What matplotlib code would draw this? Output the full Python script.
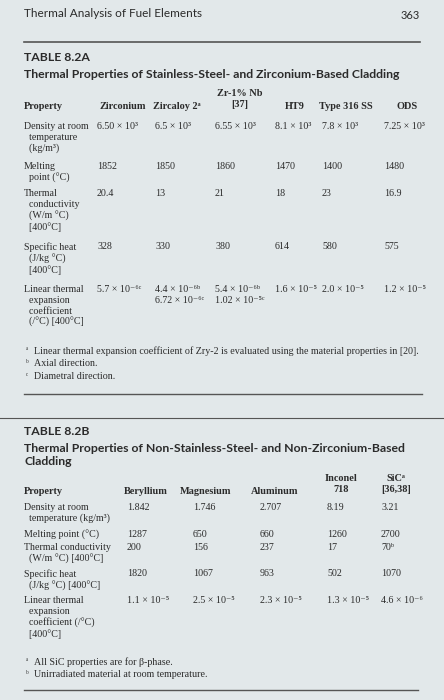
import matplotlib.pyplot as plt

plt.rcParams['font.family'] = ['Liberation Serif', 'DejaVu Serif']

W, H = 444, 700
BG = "#e2e8ea"
INK = "#2b2b2b"
SANS = ['Lato', 'DejaVu Sans']

# Table 8.2A
cols_a = ["Zirconium", "Zircaloy 2ᵃ", "Zr-1% Nb\n[37]", "HT9", "Type 316 SS", "ODS"]
props_a = [
    "Density at room\n  temperature\n  (kg/m³)",
    "Melting\n  point (°C)",
    "Thermal\n  conductivity\n  (W/m °C)\n  [400°C]",
    "Specific heat\n  (J/kg °C)\n  [400°C]",
    "Linear thermal\n  expansion\n  coefficient\n  (/°C) [400°C]",
]
density_a = ["6.50 × 10³", "6.5 × 10³", "6.55 × 10³", "8.1 × 10³", "7.8 × 10³", "7.25 × 10³"]
melting_a = ["1852", "1850", "1860", "1470", "1400", "1480"]
conduct_a = ["20.4", "13", "21", "18", "23", "16.9"]
spheat_a = ["328", "330", "380", "614", "580", "575"]
expans_a = ["5.7 × 10⁻⁶ᶜ", "4.4 × 10⁻⁶ᵇ\n6.72 × 10⁻⁶ᶜ", "5.4 × 10⁻⁶ᵇ\n1.02 × 10⁻⁵ᶜ",
            "1.6 × 10⁻⁵", "2.0 × 10⁻⁵", "1.2 × 10⁻⁵"]
notes_a = [("ᵃ", "Linear thermal expansion coefficient of Zry-2 is evaluated using the material properties in [20]."),
           ("ᵇ", "Axial direction."), ("ᶜ", "Diametral direction.")]

# Table 8.2B
cols_b = ["Beryllium", "Magnesium", "Aluminum", "Inconel\n718", "SiCᵃ\n[36,38]"]
props_b = [
    "Density at room\n  temperature (kg/m³)",
    "Melting point (°C)",
    "Thermal conductivity\n  (W/m °C) [400°C]",
    "Specific heat\n  (J/kg °C) [400°C]",
    "Linear thermal\n  expansion\n  coefficient (/°C)\n  [400°C]",
]
density_b = ["1.842", "1.746", "2.707", "8.19", "3.21"]
melting_b = ["1287", "650", "660", "1260", "2700"]
conduct_b = ["200", "156", "237", "17", "70ᵇ"]
spheat_b = ["1820", "1067", "963", "502", "1070"]
expans_b = ["1.1 × 10⁻⁵", "2.5 × 10⁻⁵", "2.3 × 10⁻⁵", "1.3 × 10⁻⁵", "4.6 × 10⁻⁶"]
notes_b = [("ᵃ", "All SiC properties are for β-phase."), ("ᵇ", "Unirradiated material at room temperature.")]

fig = plt.figure(figsize=(W / 100, H / 100), dpi=100, facecolor=BG)


def put(x, y, s, **kw):
    kw.setdefault("color", INK)
    kw.setdefault("fontsize", 7.2)
    kw.setdefault("va", "top")
    kw.setdefault("linespacing", 1.25)
    fig.text(x / W, 1 - y / H, s, **kw)


def rule(y, x0=24, x1=420, lw=1.0):
    fig.add_artist(plt.Line2D([x0 / W, x1 / W], [1 - y / H, 1 - y / H], color="#555555", lw=lw))


# page header
put(24, 8, "Thermal Analysis of Fuel Elements", family=SANS, fontsize=8.5)
put(420, 10, "363", family=SANS, fontsize=8, ha="right")
rule(42, lw=1.2)

# table A
put(24, 52, "TABLE 8.2A", family=SANS, fontsize=8.8, weight="bold")
put(24, 69, "Thermal Properties of Stainless-Steel- and Zirconium-Based Cladding",
    family=SANS, fontsize=8.8, weight="bold")
colx_a = [123, 177, 240, 295, 346, 407]
put(24, 102, "Property", fontsize=7.4, weight="bold")
for x, c in zip(colx_a, cols_a):
    put(x, 102 if "\n" not in c else 89, c, fontsize=7.4, weight="bold", ha="center",
        multialignment="center")
rows_a = [density_a, melting_a, conduct_a, spheat_a, expans_a]
rowy_a = [122, 162, 189, 242, 285]
valx_a = [97, 155, 215, 275, 322, 384]
for y, label, vals in zip(rowy_a, props_a, rows_a):
    put(24, y, label)
    for x, v in zip(valx_a, vals):
        put(x, y, v)
for i, (m, t) in enumerate(notes_a):
    put(26, 346 + i * 13, m, fontsize=6)
    put(34, 346 + i * 13, t)
rule(394, x1=422)
rule(418, x0=0, x1=444, lw=0.8)

# table B
put(24, 426, "TABLE 8.2B", family=SANS, fontsize=8.8, weight="bold")
put(24, 443, "Thermal Properties of Non-Stainless-Steel- and Non-Zirconium-Based\nCladding",
    family=SANS, fontsize=8.8, weight="bold", linespacing=1.2)
colx_b = [146, 206, 275, 341, 396]
put(24, 487, "Property", fontsize=7.4, weight="bold")
for x, c in zip(colx_b, cols_b):
    put(x, 487 if "\n" not in c else 474, c, fontsize=7.4, weight="bold", ha="center",
        multialignment="center")
rows_b = [density_b, melting_b, conduct_b, spheat_b, expans_b]
rowy_b = [503, 530, 543, 569, 596]
valx_b = [127, 193, 260, 327, 381]
for y, label, vals in zip(rowy_b, props_b, rows_b):
    put(24, y, label)
    for x, v in zip(valx_b, vals):
        put(x, y, v)
for i, (m, t) in enumerate(notes_b):
    put(26, 657 + i * 13, m, fontsize=6)
    put(34, 657 + i * 13, t)
rule(690, x1=418)

fig.savefig("out.png", dpi=100, facecolor=BG)
